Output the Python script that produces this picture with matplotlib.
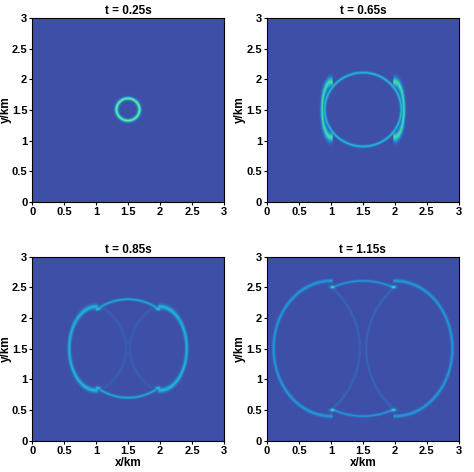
import numpy as np
import matplotlib
matplotlib.use("Agg")
import matplotlib.pyplot as plt
from matplotlib.colors import LinearSegmentedColormap

titles = ["t = 0.25s", "t = 0.65s", "t = 0.85s", "t = 1.15s"]
ticks = [0, 0.5, 1, 1.5, 2, 2.5, 3]
tick_labels = ["0", "0.5", "1", "1.5", "2", "2.5", "3"]
# wavefronts per panel: (cx, cy, rx, ry, region, amplitude, width)
fronts = [
    [(1.5, 1.5, 0.18, 0.18, 'all', 1.0, 0.028)],
    [(1.5, 1.5, 0.6, 0.6, 'all', 0.7, 0.02),
     (1.0, 1.5, 0.14, 0.45, 'left', 0.85, 0.025),
     (2.0, 1.5, 0.14, 0.45, 'right', 0.85, 0.025)],
    [(1.5, 1.5, 0.8, 0.8, 'in', 0.6, 0.02),
     (1.0, 1.5, 0.42, 0.68, 'left', 0.65, 0.025),
     (2.0, 1.5, 0.42, 0.68, 'right', 0.65, 0.025),
     (0.35, 1.5, 1.12, 0.9, 'in', 0.1, 0.02),
     (2.65, 1.5, 1.12, 0.9, 'in', 0.1, 0.02)],
    [(1.5, 1.5, 1.1, 1.1, 'in', 0.5, 0.018),
     (1.0, 1.5, 0.9, 1.1, 'left', 0.5, 0.022),
     (2.0, 1.5, 0.9, 1.1, 'right', 0.5, 0.022),
     (0.11, 1.5, 1.34, 1.34, 'in', 0.15, 0.02),
     (2.89, 1.5, 1.34, 1.34, 'in', 0.15, 0.02)],
]
spots = [
    [],
    [(0.9, 1.8, 0.5), (0.9, 1.2, 0.5), (2.1, 1.8, 0.5), (2.1, 1.2, 0.5)],
    [(1.03, 2.14, 0.65), (1.97, 2.14, 0.65), (1.03, 0.86, 0.65), (1.97, 0.86, 0.65)],
    [(1.02, 2.5, 0.8), (1.98, 2.5, 0.8), (1.02, 0.5, 0.8), (1.98, 0.5, 0.8)],
]

cmap = LinearSegmentedColormap.from_list("p", [
    (0.0, (0.245, 0.31, 0.66)), (0.4, (0.13, 0.55, 0.85)),
    (0.7, (0.15, 0.75, 0.75)), (1.0, (0.45, 0.95, 0.55))])

n = 400
g = np.linspace(0, 3, n)
X, Y = np.meshgrid(g, g)

positions = [(0.068, 0.572), (0.563, 0.572), (0.068, 0.066), (0.563, 0.066)]
fig = plt.figure(figsize=(4.74, 4.72), dpi=100)
font = dict(family="Liberation Sans", weight="bold")
for i in range(4):
    ax = fig.add_axes([positions[i][0], positions[i][1], 0.405, 0.39])
    F = np.zeros_like(X)
    for cx, cy, rx, ry, reg, a, w in fronts[i]:
        r = np.sqrt(((X - cx) / rx) ** 2 + ((Y - cy) / ry) ** 2)
        d = (r - 1) * min(rx, ry)
        v = a * np.exp(-(d / w) ** 2)
        if reg == 'in':
            v *= (X > 1) & (X < 2)
        elif reg == 'left':
            v *= X < 1.03
        elif reg == 'right':
            v *= X > 1.97
        F = np.maximum(F, v)
    for sx, sy, a in spots[i]:
        F = np.maximum(F, a * np.exp(-(((X - sx) / 0.045) ** 2 + ((Y - sy) / 0.025) ** 2)) + 0.3 * F)
    ax.imshow(F, extent=[0, 3, 0, 3], origin="lower", cmap=cmap, vmin=0, vmax=1,
              interpolation="bilinear", aspect="auto")
    ax.set_xlim(0, 3); ax.set_ylim(0, 3)
    ax.set_xticks(ticks); ax.set_yticks(ticks)
    ax.set_xticklabels(tick_labels, fontsize=8, **font)
    ax.set_yticklabels(tick_labels, fontsize=8, **font)
    ax.tick_params(length=2, pad=1.5)
    ax.set_title(titles[i], fontsize=8.5, pad=3, **font)
    ax.set_ylabel("y/km", fontsize=8.5, labelpad=0, **font)
    if i >= 2:
        ax.set_xlabel("x/km", fontsize=8.5, labelpad=1, **font)
fig.savefig("out.png", dpi=100)
